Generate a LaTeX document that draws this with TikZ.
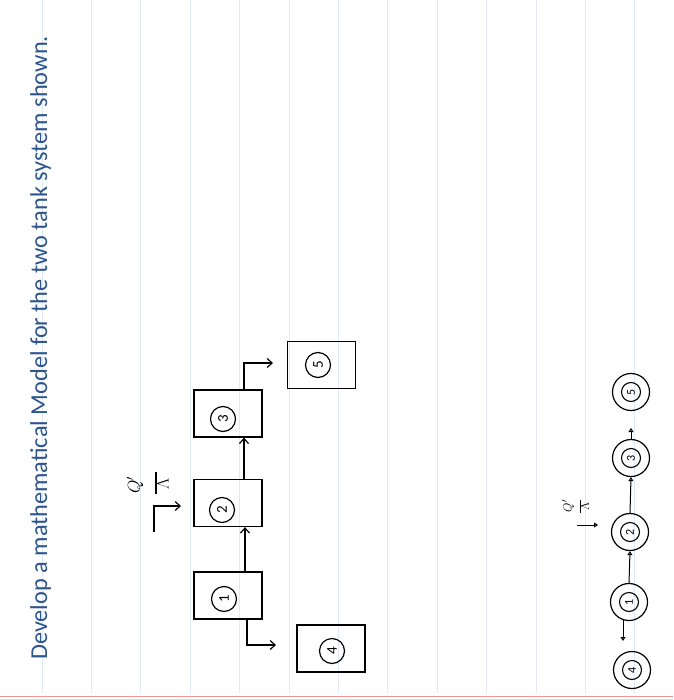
\documentclass[tikz,border=0pt]{standalone}
\usepackage{fontspec}
\setmainfont{Carlito}
\usetikzlibrary{arrows.meta}
\definecolor{ttl}{RGB}{46,84,140}
\definecolor{rulec}{RGB}{222,234,246}
\definecolor{marginc}{RGB}{238,150,150}
\newcommand{\rt}[1]{\rotatebox{90}{#1}}
\begin{document}
\begin{tikzpicture}[x=1pt,y=-1pt,
  tank/.style={draw, line width=1.3pt, minimum width=68pt, minimum height=47pt, inner sep=0},
  tagc/.style={draw, circle, line width=1.2pt, minimum size=25pt, inner sep=0, font=\fontsize{15}{15}\selectfont},
  bub/.style={draw, circle, line width=1.2pt, minimum size=37pt, inner sep=0},
  btag/.style={draw, circle, line width=1.1pt, minimum size=19pt, inner sep=0, font=\fontsize{12}{12}\selectfont},
  flow/.style={line width=1.2pt, -{Straight Barb[length=5pt,width=9pt]}},
  sflow/.style={line width=1pt, -{Triangle[open,length=4pt,width=5pt]}}]
\useasboundingbox (0,0) rectangle (673,700);
\fill[white] (0,0) rectangle (673,700);
\foreach \i in {0,...,12} \draw[rulec, line width=0.8pt] ({42+49.4*\i},0) -- ({42+49.4*\i},693);
\draw[marginc, line width=1pt] (0,696) -- (673,696);
\draw[black!15, line width=0.8pt] (0,699.5) -- (673,699.5);

\node[rotate=90, anchor=base west, text=ttl, font=\fontsize{24.3}{29}\selectfont, inner sep=0] (title) at (47,660) {Develop a mathematical Model for the two tank system shown.};

% upper diagram
\node[tank] (b1) at (228,595.5) {};
\node[tank] (b2) at (228,503) {};
\node[tank] (b3) at (228,413.5) {};
\node[tank] (b5) at (321.5,365) {};
\node[tank] (b4) at (331,648.5) {};
\node[tagc] (t1) at (224,599) {\rt{1}};
\node[tagc] (t2) at (222,510) {\rt{2}};
\node[tagc] (t3) at (223,419) {\rt{3}};
\node[tagc] (t5) at (318,365) {\rt{5}};
\node[tagc] (t4) at (332,651) {\rt{4}};

\draw[flow] ([xshift=17pt]b1.north) -- ([xshift=17pt]b2.south);
\draw[flow] ([xshift=16pt]b2.north) -- ([xshift=16pt]b3.south);
\coordinate (e5) at (273,363);
\draw[flow] ([xshift=16pt]b3.north) |- (e5);
\coordinate (e4) at (276,645);
\draw[flow] ([xshift=19pt]b1.south) |- (e4);
\coordinate (q0) at (154,532);
\coordinate (q1) at (181,506);
\draw[flow] (q0) |- (q1);

\node[rotate=90, font=\fontsize{17}{17}\selectfont, inner sep=0] (qa) at (135,485) {$Q'$};
\coordinate (ba) at (156,472);
\coordinate (bb) at (156,494);
\draw[line width=1.1pt] (ba) -- (bb);
\node[rotate=90, anchor=north, font=\fontsize{16}{16}\selectfont, inner sep=0] (la) at (156.6,484) {$\Lambda$};

% lower diagram
\node[bub] (c5) at (631,392) {};
\node[bub] (c3) at (631,458) {};
\node[bub] (c2) at (630,532) {};
\node[bub] (c1) at (629,602) {};
\node[bub] (c4) at (632,670) {};
\node[btag] (d5) at (c5) {\rt{5}};
\node[btag] (d3) at (c3) {\rt{3}};
\node[btag] (d2) at (c2) {\rt{2}};
\node[btag] (d1) at (c1) {\rt{1}};
\node[btag] (d4) at (c4) {\rt{4}};

\draw[sflow] (c1.north) -- (c2.south);
\draw[sflow] (c2.north) -- (c3.south);
\coordinate (a5) at (631,428);
\draw[sflow] (c3.north) -- (a5);
\coordinate (a4) at (623,641);
\coordinate (a4s) at (623,620);
\draw[sflow] (a4s) -- (a4);
\coordinate (i0) at (577,525);
\coordinate (i1) at (598,525);
\draw[sflow] (i0) -- (i1);

\node[rotate=90, font=\fontsize{13}{13}\selectfont, inner sep=0] (qb) at (568,506) {$Q'$};
\coordinate (bc) at (580,500);
\coordinate (bd) at (580,513);
\draw[line width=1pt] (bc) -- (bd);
\node[rotate=90, anchor=north, font=\fontsize{13}{13}\selectfont, inner sep=0] (lb) at (580.5,506) {$\Lambda$};
\end{tikzpicture}
\end{document}
